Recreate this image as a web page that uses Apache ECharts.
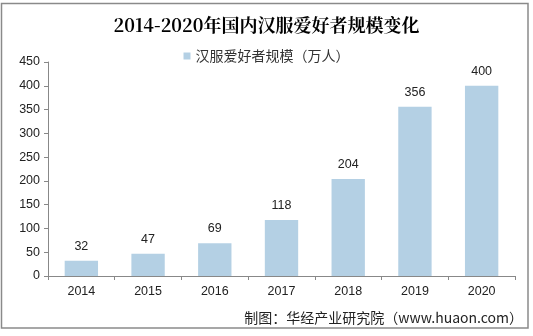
<!DOCTYPE html>
<html><head><meta charset="utf-8">
<script src="https://cdn.jsdelivr.net/npm/echarts@6/dist/echarts.min.js"></script>
<style>html,body{margin:0;padding:0;background:#fff}#c{width:533px;height:336px}</style>
</head><body><div id="c"></div>
<script>
var categories = ['2014','2015','2016','2017','2018','2019','2020'];
var values = [32, 47, 69, 118, 204, 356, 400];
var seriesName = '汉服爱好者规模（万人）';
var titleText = '2014-2020年国内汉服爱好者规模变化';
var sourceText = '制图：华经产业研究院（www.huaon.com）';

var chart = echarts.init(document.getElementById('c'));
chart.setOption({
  animation: false,
  title: {
    text: titleText, left: 'center', top: 11,
    textStyle: {fontFamily: '"Noto Serif CJK SC","Noto Sans CJK SC",serif', fontWeight: 'bold', fontSize: 18, color: '#000'}
  },
  legend: {
    top: 44, left: 'center', itemWidth: 7, itemHeight: 7, itemGap: 4,
    textStyle: {fontFamily: '"Noto Sans CJK SC",sans-serif', fontSize: 14, color: '#333'},
    data: [{name: seriesName, icon: 'rect'}]
  },
  grid: {left: 48, right: 18, top: 62, bottom: 60},
  xAxis: {
    type: 'category', data: categories,
    axisLine: {lineStyle: {color: '#888'}},
    axisTick: {show: true, lineStyle: {color: '#888'}, length: 4},
    axisLabel: {color: '#222', fontSize: 12.5, fontFamily: 'Arial, "Liberation Sans", sans-serif', margin: 9}
  },
  yAxis: {
    type: 'value', min: 0, max: 450, interval: 50,
    axisLine: {show: true, lineStyle: {color: '#888'}},
    axisTick: {show: true, inside: false, length: 4, lineStyle: {color: '#888'}},
    splitLine: {show: false},
    axisLabel: {color: '#222', fontSize: 12.5, fontFamily: 'Arial, "Liberation Sans", sans-serif', margin: 8}
  },
  series: [{
    name: seriesName, type: 'bar', data: values, barWidth: '50%',
    itemStyle: {color: '#B4D0E4'},
    label: {show: true, position: 'top', distance: 8, color: '#222', fontSize: 12.5, fontFamily: 'Arial, "Liberation Sans", sans-serif'}
  }],
  graphic: [
    {type: 'rect', shape: {x: 1.5, y: 3.5, width: 526.5, height: 324.5}, style: {fill: null, stroke: '#8a8a8a', lineWidth: 1.5}, silent: true},
    {type: 'text', right: 10, top: 311, style: {text: sourceText, fill: '#222', fontSize: 14, fontFamily: '"Noto Sans CJK SC",sans-serif'}}
  ]
});
</script></body></html>
